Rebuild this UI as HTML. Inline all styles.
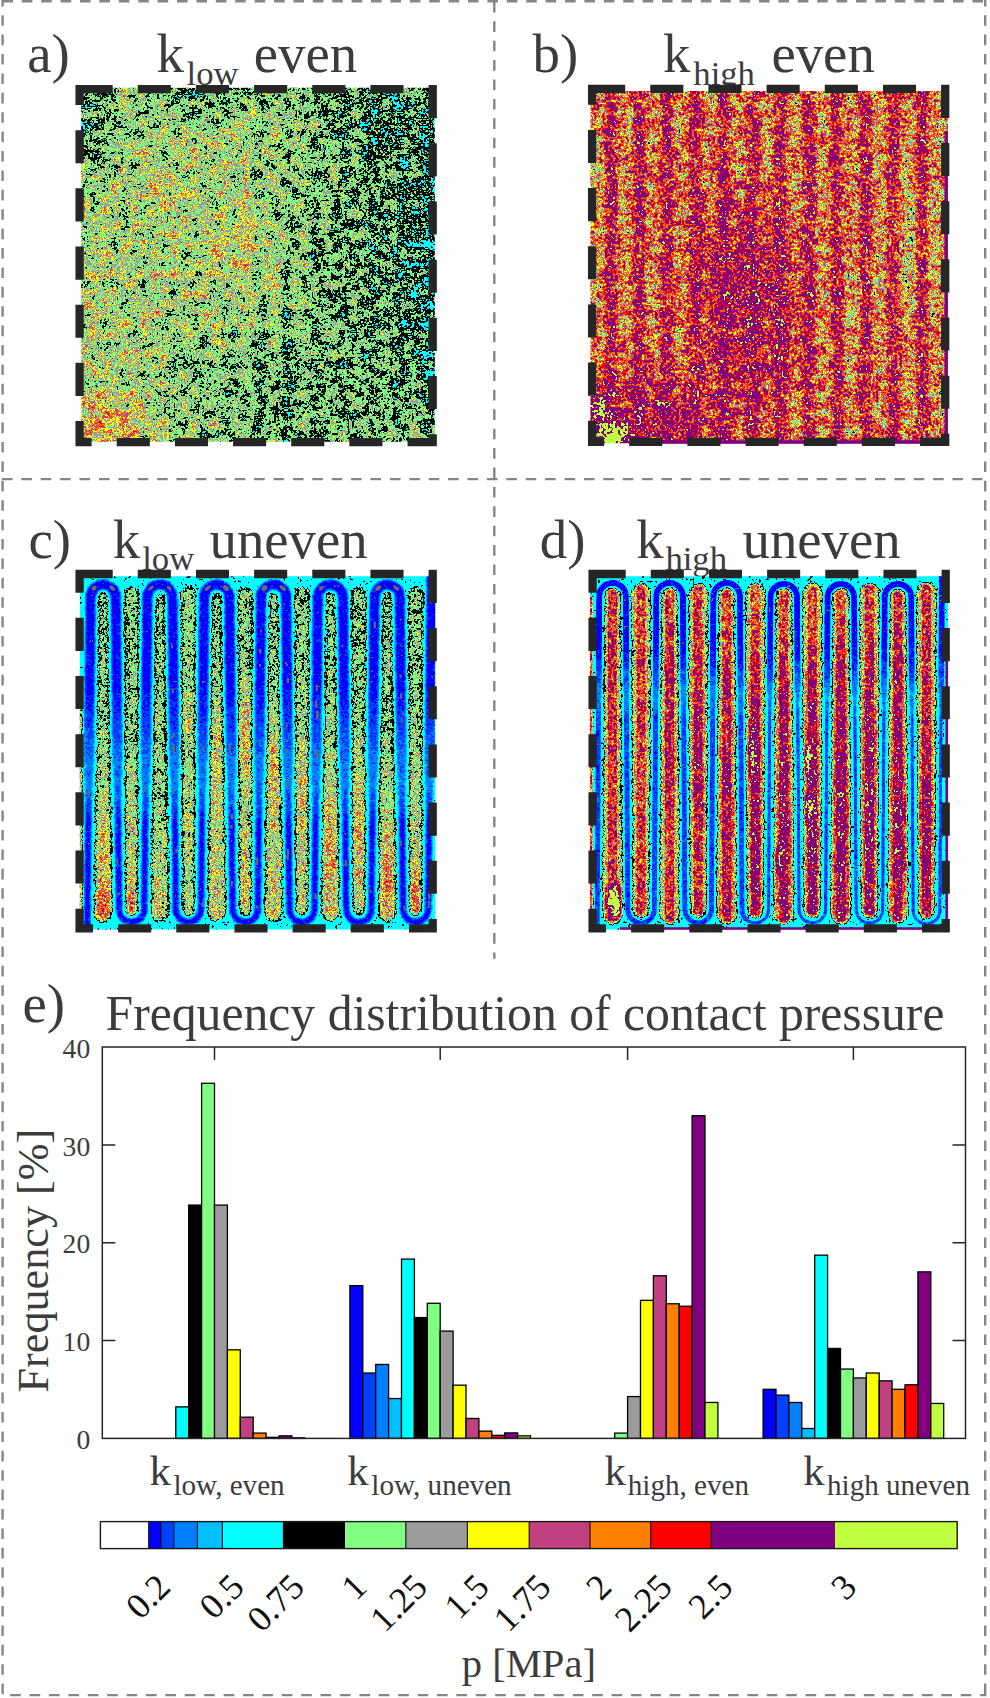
<!DOCTYPE html>
<html><head><meta charset="utf-8"><title>Frequency distribution of contact pressure</title>
<style>html,body{margin:0;padding:0;background:#fff}svg{display:block}</style></head>
<body>
<svg width="990" height="1698" viewBox="0 0 990 1698" font-family='"Liberation Serif", serif' fill="#3c3c3c">
<rect width="990" height="1698" fill="#fff"/>
<g id="guides">
<line x1="2.4" y1="1.3" x2="986.4" y2="1.3" stroke="#868686" stroke-width="2.4" stroke-dasharray="10.6 8.8" stroke-dashoffset="0"/>
<line x1="2.6" y1="0" x2="2.6" y2="1696" stroke="#868686" stroke-width="2.4" stroke-dasharray="10.6 8.8" stroke-dashoffset="4.2"/>
<line x1="985.2" y1="0" x2="985.2" y2="1696" stroke="#868686" stroke-width="2.4" stroke-dasharray="10.6 8.8" stroke-dashoffset="4.2"/>
<line x1="2.4" y1="1695.1" x2="986.4" y2="1695.1" stroke="#868686" stroke-width="2.4" stroke-dasharray="10.6 8.8" stroke-dashoffset="11.6"/>
<line x1="1.9" y1="479.1" x2="986.4" y2="479.1" stroke="#868686" stroke-width="2.4" stroke-dasharray="10.6 8.8" stroke-dashoffset="0"/>
<line x1="494.3" y1="1.9" x2="494.3" y2="958.8" stroke="#868686" stroke-width="2.4" stroke-dasharray="10.6 8.8" stroke-dashoffset="0"/>
</g>
<g id="titles">
<text x="27.3" y="72.4" font-size="54.8">a)</text>
<text x="156.5" y="72.4" font-size="54.8">k</text>
<text x="186.6" y="84.60000000000001" font-size="34.7">low</text>
<text x="253.8" y="72.4" font-size="54.8">even</text>
<text x="532.5" y="72.4" font-size="54.8">b)</text>
<text x="662.9" y="72.4" font-size="54.8">k</text>
<text x="693.3" y="84.60000000000001" font-size="34.7">high</text>
<text x="771.4" y="72.4" font-size="54.8">even</text>
<text x="28.4" y="557.7" font-size="54.8">c)</text>
<text x="112.8" y="557.7" font-size="54.8">k</text>
<text x="142.2" y="569.9000000000001" font-size="34.7">low</text>
<text x="209.5" y="557.7" font-size="54.8">uneven</text>
<text x="539.8" y="557.7" font-size="54.8">d)</text>
<text x="636.2" y="557.7" font-size="54.8">k</text>
<text x="665.4" y="569.9000000000001" font-size="34.7">high</text>
<text x="742.5" y="557.7" font-size="54.8">uneven</text>
</g>
<defs><radialGradient id="gw"><stop offset="0" stop-color="#fff"/><stop offset=".5" stop-color="#fff" stop-opacity=".6"/><stop offset="1" stop-color="#fff" stop-opacity="0"/></radialGradient>
<radialGradient id="gk"><stop offset="0" stop-color="#000"/><stop offset=".5" stop-color="#000" stop-opacity=".6"/><stop offset="1" stop-color="#000" stop-opacity="0"/></radialGradient></defs><clipPath id="ca"><rect x="81.2" y="87.7" width="353.6" height="354.0"/></clipPath><filter id="fa" filterUnits="userSpaceOnUse" x="69.2" y="75.7" width="377.6" height="378.0" color-interpolation-filters="sRGB"><feGaussianBlur in="SourceGraphic" stdDeviation="3" result="m0"/><feTurbulence type="fractalNoise" baseFrequency="0.1" numOctaves="2" seed="5"/><feColorMatrix values="1 0 0 0 0 1 0 0 0 0 1 0 0 0 0 0 0 0 0 1" result="n2"/><feComposite in="m0" in2="n2" operator="arithmetic" k1="0" k2="1" k3="0.20070211809099997" k4="-0.1004" result="m"/><feTurbulence type="fractalNoise" baseFrequency="0.42" numOctaves="1" seed="11"/><feColorMatrix values="1 0 0 0 0 1 0 0 0 0 1 0 0 0 0 0 0 0 0 1" result="n1"/><feComposite in="m" in2="n1" operator="arithmetic" k1="0" k2="1" k3="0.2085282384190767" k4="-0.1043"/><feComponentTransfer><feFuncR type="discrete" tableValues=".42 .42 .42 .42 .42 .42 .42 .42 .42 .42 .42 .42 .42 0 0 0 0 0 0 0 0 0 0 0 0 0 0 0 0 0 0 0 0 0 0 0 0 0 0 0 0 0 0 0 0 0 0 0 0 0 0 0 0 0 0 0 0 0 0 0 0 0 0 0 0 0 0 0 0 0 0 0 0 0 0 0 0 0 0 0 0 0 0 0 0 0 0 0 0 0 0 0 0 0 0 0 0 0 0 0 0 0 0 0 0 0 0 0 0 0 0 0 0 0 0 0 0 0 0 0 0 0 0 0 0 0 0 0 0 0 0 0 0 0 0 0 0 0 0 0 0 0 0 0 0 0 0 0 0 0 0 0 0 0 0 0 0 .5 .5 .5 .5 .5 .5 .5 .5 .5 .5 .61 .61 .61 .61 .61 .61 .61 .61 1 1 1 1 1 1 1 .75 .75 .75 .75 .75 .75 .75 1 1 1 1 1 1 1 1 1 1 1 1 .5 .5 .5 .5 .5 .5 .5 .5 .5 .5 .5 .5 .5 .5 .5 .5 .5 .5 .5 .5 .5 .75 .75 .75 .75 .75 .75 .75 .75 .75 .75 .75 .75 .75 .75 .75 .75 .75 .75 .75 .75 .75 .75 .75 .75 .75 .75 .75 .75 .75 .75 .75 .75 .75 .75"/><feFuncG type="discrete" tableValues=".42 .42 .42 .42 .42 .42 .42 .42 .42 .42 .42 .42 .42 0 0 0 0 0 0 0 0 0 0 0 0 0 0 0 0 0 0 0 0 0 0 0 0 0 0 0 0 0 .25 .25 .25 .25 .25 .25 .25 .25 .25 .25 .25 .25 .25 .25 .25 .25 .25 .25 .25 .25 .25 .5 .5 .5 .5 .5 .5 .5 .5 .5 .5 .5 .5 .5 .5 .5 .5 .5 .5 .5 .5 .5 .5 .5 .5 .5 .75 .75 .75 .75 .75 .75 .75 .75 .75 .75 .75 .75 .75 .75 .75 .75 .75 .75 .75 1 1 1 1 1 1 1 1 1 1 1 1 1 1 1 1 1 1 1 1 1 1 1 1 1 1 1 1 1 1 1 1 1 1 1 1 0 0 0 0 0 0 0 0 0 0 0 0 0 0 1 1 1 1 1 1 1 1 1 1 .61 .61 .61 .61 .61 .61 .61 .61 1 1 1 1 1 1 1 .25 .25 .25 .25 .25 .25 .25 .5 .5 .5 .5 .5 .5 0 0 0 0 0 0 0 0 0 0 0 0 0 0 0 0 0 0 0 0 0 0 0 0 0 0 0 1 1 1 1 1 1 1 1 1 1 1 1 1 1 1 1 1 1 1 1 1 1 1 1 1 1 1 1 1 1 1 1 1 1"/><feFuncB type="discrete" tableValues=".42 .42 .42 .42 .42 .42 .42 .42 .42 .42 .42 .42 .42 1 1 1 1 1 1 1 1 1 1 1 1 1 1 1 1 1 1 1 1 1 1 1 1 1 1 1 1 1 1 1 1 1 1 1 1 1 1 1 1 1 1 1 1 1 1 1 1 1 1 1 1 1 1 1 1 1 1 1 1 1 1 1 1 1 1 1 1 1 1 1 1 1 1 1 1 1 1 1 1 1 1 1 1 1 1 1 1 1 1 1 1 1 1 1 1 1 1 1 1 1 1 1 1 1 1 1 1 1 1 1 1 1 1 1 1 1 1 1 1 1 1 1 1 1 1 1 1 1 1 0 0 0 0 0 0 0 0 0 0 0 0 0 0 .5 .5 .5 .5 .5 .5 .5 .5 .5 .5 .61 .61 .61 .61 .61 .61 .61 .61 0 0 0 0 0 0 0 .5 .5 .5 .5 .5 .5 .5 0 0 0 0 0 0 0 0 0 0 0 0 .5 .5 .5 .5 .5 .5 .5 .5 .5 .5 .5 .5 .5 .5 .5 .5 .5 .5 .5 .5 .5 .25 .25 .25 .25 .25 .25 .25 .25 .25 .25 .25 .25 .25 .25 .25 .25 .25 .25 .25 .25 .25 .25 .25 .25 .25 .25 .25 .25 .25 .25 .25 .25 .25 .25"/><feFuncA type="linear" slope="0" intercept="1"/></feComponentTransfer></filter><g clip-path="url(#ca)"><g filter="url(#fa)"><rect x="67.2" y="73.7" width="381.6" height="382.0" fill="#a8a8a8"/><ellipse cx="247.392" cy="239.92000000000002" rx="15.912" ry="60.18000000000001" fill="url(#gw)" opacity="0.123"/><ellipse cx="215.56800000000004" cy="247.0" rx="14.144000000000002" ry="35.4" fill="url(#gw)" opacity="0.090"/><ellipse cx="275.68" cy="264.7" rx="12.376000000000001" ry="42.48" fill="url(#gw)" opacity="0.090"/><ellipse cx="158.99200000000002" cy="186.82" rx="15.912" ry="42.48" fill="url(#gw)" opacity="0.090"/><ellipse cx="187.28" cy="229.3" rx="14.144000000000002" ry="35.4" fill="url(#gw)" opacity="0.045"/><ellipse cx="102.416" cy="424.0" rx="56.57600000000001" ry="42.48" fill="url(#gw)" opacity="0.169"/><ellipse cx="81.2" cy="317.8" rx="17.680000000000003" ry="88.5" fill="url(#gw)" opacity="0.056"/><ellipse cx="81.2" cy="123.1" rx="45.968" ry="84.96" fill="url(#gk)" opacity="0.102"/><ellipse cx="194.35200000000003" cy="87.7" rx="70.72000000000001" ry="49.56" fill="url(#gk)" opacity="0.083"/><ellipse cx="134.24" cy="123.1" rx="24.752000000000002" ry="24.78" fill="url(#gk)" opacity="0.043"/><ellipse cx="300.432" cy="87.7" rx="106.08" ry="35.4" fill="url(#gk)" opacity="0.043"/><ellipse cx="463.088" cy="247.0" rx="212.16" ry="300.9" fill="url(#gk)" opacity="0.102"/><ellipse cx="434.8" cy="282.40000000000003" rx="35.36000000000001" ry="177.0" fill="url(#gk)" opacity="0.048"/><ellipse cx="381.76" cy="116.02000000000001" rx="77.792" ry="56.64" fill="url(#gk)" opacity="0.043"/><ellipse cx="275.68" cy="406.3" rx="113.15200000000002" ry="88.5" fill="url(#gk)" opacity="0.048"/><ellipse cx="187.28" cy="363.82" rx="42.432" ry="35.4" fill="url(#gk)" opacity="0.032"/><path d="M258.9 79.7V449.7M287.4 79.7V449.7M315.8 79.7V449.7M344.2 79.7V449.7M372.7 79.7V449.7M401.1 79.7V449.7M429.6 79.7V449.7" stroke="#000" stroke-width="9" opacity="0.036" fill="none"/><path d="M173.6 307.18V449.7M202.0 307.18V449.7M230.4 307.18V449.7M258.9 307.18V449.7M287.4 307.18V449.7" stroke="#000" stroke-width="8" opacity="0.034" fill="none"/></g></g><clipPath id="cb"><rect x="590.4" y="91.0" width="357.4" height="352.2"/></clipPath><filter id="fb" filterUnits="userSpaceOnUse" x="578.4" y="79.0" width="381.4" height="376.2" color-interpolation-filters="sRGB"><feGaussianBlur in="SourceGraphic" stdDeviation="2.2" result="m0"/><feTurbulence type="fractalNoise" baseFrequency="0.11" numOctaves="2" seed="8"/><feColorMatrix values="1 0 0 0 0 1 0 0 0 0 1 0 0 0 0 0 0 0 0 1" result="n2"/><feComposite in="m0" in2="n2" operator="arithmetic" k1="0" k2="1" k3="0.2274624005031333" k4="-0.1137" result="m"/><feTurbulence type="fractalNoise" baseFrequency="0.38" numOctaves="1" seed="23"/><feColorMatrix values="1 0 0 0 0 1 0 0 0 0 1 0 0 0 0 0 0 0 0 1" result="n1"/><feComposite in="m" in2="n1" operator="arithmetic" k1="0" k2="1" k3="0.29789748345582384" k4="-0.1489"/><feComponentTransfer><feFuncR type="discrete" tableValues=".42 .42 .42 .42 .42 .42 .42 .42 .42 .42 .42 .42 .42 0 0 0 0 0 0 0 0 0 0 0 0 0 0 0 0 0 0 0 0 0 0 0 0 0 0 0 0 0 0 0 0 0 0 0 0 0 0 0 0 0 0 0 0 0 0 0 0 0 0 0 0 0 0 0 0 0 0 0 0 0 0 0 0 0 0 0 0 0 0 0 0 0 0 0 0 0 0 0 0 0 0 0 0 0 0 0 0 0 0 0 0 0 0 0 0 0 0 0 0 0 0 0 0 0 0 0 0 0 0 0 0 0 0 0 0 0 0 0 0 0 0 0 0 0 0 0 0 0 0 0 0 0 0 0 0 0 0 0 0 0 0 0 0 .5 .5 .5 .5 .5 .5 .5 .5 .5 .5 .61 .61 .61 .61 .61 .61 .61 .61 1 1 1 1 1 1 1 .75 .75 .75 .75 .75 .75 .75 1 1 1 1 1 1 1 1 1 1 1 1 .5 .5 .5 .5 .5 .5 .5 .5 .5 .5 .5 .5 .5 .5 .5 .5 .5 .5 .5 .5 .5 .75 .75 .75 .75 .75 .75 .75 .75 .75 .75 .75 .75 .75 .75 .75 .75 .75 .75 .75 .75 .75 .75 .75 .75 .75 .75 .75 .75 .75 .75 .75 .75 .75 .75"/><feFuncG type="discrete" tableValues=".42 .42 .42 .42 .42 .42 .42 .42 .42 .42 .42 .42 .42 0 0 0 0 0 0 0 0 0 0 0 0 0 0 0 0 0 0 0 0 0 0 0 0 0 0 0 0 0 .25 .25 .25 .25 .25 .25 .25 .25 .25 .25 .25 .25 .25 .25 .25 .25 .25 .25 .25 .25 .25 .5 .5 .5 .5 .5 .5 .5 .5 .5 .5 .5 .5 .5 .5 .5 .5 .5 .5 .5 .5 .5 .5 .5 .5 .5 .75 .75 .75 .75 .75 .75 .75 .75 .75 .75 .75 .75 .75 .75 .75 .75 .75 .75 .75 1 1 1 1 1 1 1 1 1 1 1 1 1 1 1 1 1 1 1 1 1 1 1 1 1 1 1 1 1 1 1 1 1 1 1 1 0 0 0 0 0 0 0 0 0 0 0 0 0 0 1 1 1 1 1 1 1 1 1 1 .61 .61 .61 .61 .61 .61 .61 .61 1 1 1 1 1 1 1 .25 .25 .25 .25 .25 .25 .25 .5 .5 .5 .5 .5 .5 0 0 0 0 0 0 0 0 0 0 0 0 0 0 0 0 0 0 0 0 0 0 0 0 0 0 0 1 1 1 1 1 1 1 1 1 1 1 1 1 1 1 1 1 1 1 1 1 1 1 1 1 1 1 1 1 1 1 1 1 1"/><feFuncB type="discrete" tableValues=".42 .42 .42 .42 .42 .42 .42 .42 .42 .42 .42 .42 .42 1 1 1 1 1 1 1 1 1 1 1 1 1 1 1 1 1 1 1 1 1 1 1 1 1 1 1 1 1 1 1 1 1 1 1 1 1 1 1 1 1 1 1 1 1 1 1 1 1 1 1 1 1 1 1 1 1 1 1 1 1 1 1 1 1 1 1 1 1 1 1 1 1 1 1 1 1 1 1 1 1 1 1 1 1 1 1 1 1 1 1 1 1 1 1 1 1 1 1 1 1 1 1 1 1 1 1 1 1 1 1 1 1 1 1 1 1 1 1 1 1 1 1 1 1 1 1 1 1 1 0 0 0 0 0 0 0 0 0 0 0 0 0 0 .5 .5 .5 .5 .5 .5 .5 .5 .5 .5 .61 .61 .61 .61 .61 .61 .61 .61 0 0 0 0 0 0 0 .5 .5 .5 .5 .5 .5 .5 0 0 0 0 0 0 0 0 0 0 0 0 .5 .5 .5 .5 .5 .5 .5 .5 .5 .5 .5 .5 .5 .5 .5 .5 .5 .5 .5 .5 .5 .25 .25 .25 .25 .25 .25 .25 .25 .25 .25 .25 .25 .25 .25 .25 .25 .25 .25 .25 .25 .25 .25 .25 .25 .25 .25 .25 .25 .25 .25 .25 .25 .25 .25"/><feFuncA type="linear" slope="0" intercept="1"/></feComponentTransfer></filter><g clip-path="url(#cb)"><g filter="url(#fb)"><rect x="576.4" y="77.0" width="385.4" height="380.2" fill="#b8b8b8"/><ellipse cx="751.23" cy="309.36400000000003" rx="71.48" ry="147.92399999999998" fill="url(#gw)" opacity="0.295"/><ellipse cx="715.49" cy="249.49" rx="42.888" ry="105.66" fill="url(#gw)" opacity="0.069"/><ellipse cx="640.4359999999999" cy="418.546" rx="114.368" ry="70.44" fill="url(#gw)" opacity="0.295"/><ellipse cx="661.88" cy="196.66" rx="42.888" ry="88.05" fill="url(#gw)" opacity="0.052"/><ellipse cx="912.06" cy="238.92399999999998" rx="39.314" ry="105.66" fill="url(#gk)" opacity="0.060"/><ellipse cx="858.4499999999999" cy="302.32" rx="35.74" ry="70.44" fill="url(#gk)" opacity="0.021"/><ellipse cx="840.5799999999999" cy="112.132" rx="107.21999999999998" ry="35.22" fill="url(#gk)" opacity="0.017"/><ellipse cx="590.4" cy="196.66" rx="17.87" ry="105.66" fill="url(#gk)" opacity="0.036"/><path d="M610.7 83.0V451.2M639.0 83.0V451.2M667.3 83.0V451.2M695.6 83.0V451.2M723.9 83.0V451.2M752.2 83.0V451.2M780.5 83.0V451.2M808.8 83.0V451.2M837.1 83.0V451.2M865.4 83.0V451.2M893.7 83.0V451.2M922.0 83.0V451.2" stroke="#d3d3d3" stroke-width="12" opacity="0.68" fill="none"/><ellipse cx="610.057" cy="434.395" rx="26.804999999999996" ry="17.61" fill="url(#gw)" opacity="0.722"/><ellipse cx="597.548" cy="407.98" rx="10.722" ry="17.61" fill="url(#gw)" opacity="0.584"/></g></g><path d="M946.1999999999999 131.0V442.0H650.4" stroke="#800080" stroke-width="3.4" fill="none"/><clipPath id="cc"><rect x="79.8" y="576.2" width="355.5" height="353.3"/></clipPath><linearGradient id="lgm" gradientUnits="userSpaceOnUse" x1="0" y1="576.2" x2="0" y2="929.5"><stop offset="0" stop-color="#000"/><stop offset=".3" stop-color="#000" stop-opacity=".8"/><stop offset=".75" stop-color="#000" stop-opacity="0"/></linearGradient><filter id="mcf" filterUnits="userSpaceOnUse" x="69.8" y="566.2" width="375.5" height="373.3"><feGaussianBlur stdDeviation="0.8"/></filter><mask id="mc" maskUnits="userSpaceOnUse" x="69.8" y="566.2" width="375.5" height="373.3"><g filter="url(#mcf)"><rect x="69.8" y="566.2" width="375.5" height="373.3" fill="#fff"/><path d="M87.4 949.5L90.6 597.2M119.0 909.5L115.8 597.2M144.2 909.5L147.4 597.2M175.8 909.5L172.6 597.2M201.0 909.5L204.2 597.2M232.6 909.5L229.4 597.2M257.8 909.5L261.0 597.2M289.4 909.5L286.2 597.2M314.6 909.5L317.8 597.2M346.2 909.5L343.0 597.2M371.4 909.5L374.6 597.2M403.0 909.5L399.8 597.2M428.2 909.5L431.4 597.2V556.2M90.6 597.2V597.2A12.60 12.60 0 0 1 115.8 597.2V597.2M87.4 909.5V912.5A15.80 15.80 0 0 0 119.0 912.5V909.5M115.8 597.2V594.2A15.80 15.80 0 0 1 147.4 594.2V597.2M119.0 909.5V909.5A12.60 12.60 0 0 0 144.2 909.5V909.5M147.4 597.2V597.2A12.60 12.60 0 0 1 172.6 597.2V597.2M144.2 909.5V912.5A15.80 15.80 0 0 0 175.8 912.5V909.5M172.6 597.2V594.2A15.80 15.80 0 0 1 204.2 594.2V597.2M175.8 909.5V909.5A12.60 12.60 0 0 0 201.0 909.5V909.5M204.2 597.2V597.2A12.60 12.60 0 0 1 229.4 597.2V597.2M201.0 909.5V912.5A15.80 15.80 0 0 0 232.6 912.5V909.5M229.4 597.2V594.2A15.80 15.80 0 0 1 261.0 594.2V597.2M232.6 909.5V909.5A12.60 12.60 0 0 0 257.8 909.5V909.5M261.0 597.2V597.2A12.60 12.60 0 0 1 286.2 597.2V597.2M257.8 909.5V912.5A15.80 15.80 0 0 0 289.4 912.5V909.5M286.2 597.2V594.2A15.80 15.80 0 0 1 317.8 594.2V597.2M289.4 909.5V909.5A12.60 12.60 0 0 0 314.6 909.5V909.5M317.8 597.2V597.2A12.60 12.60 0 0 1 343.0 597.2V597.2M314.6 909.5V912.5A15.80 15.80 0 0 0 346.2 912.5V909.5M343.0 597.2V594.2A15.80 15.80 0 0 1 374.6 594.2V597.2M346.2 909.5V909.5A12.60 12.60 0 0 0 371.4 909.5V909.5M374.6 597.2V597.2A12.60 12.60 0 0 1 399.8 597.2V597.2M371.4 909.5V912.5A15.80 15.80 0 0 0 403.0 912.5V909.5M399.8 597.2V594.2A15.80 15.80 0 0 1 431.4 594.2V597.2M403.0 909.5V909.5A12.60 12.60 0 0 0 428.2 909.5V909.5" stroke="#000" stroke-width="16.2" fill="none"/><path d="M87.4 949.5L90.6 597.2M119.0 909.5L115.8 597.2M144.2 909.5L147.4 597.2M175.8 909.5L172.6 597.2M201.0 909.5L204.2 597.2M232.6 909.5L229.4 597.2M257.8 909.5L261.0 597.2M289.4 909.5L286.2 597.2M314.6 909.5L317.8 597.2M346.2 909.5L343.0 597.2M371.4 909.5L374.6 597.2M403.0 909.5L399.8 597.2M428.2 909.5L431.4 597.2V556.2M90.6 597.2V597.2A12.60 12.60 0 0 1 115.8 597.2V597.2M87.4 909.5V912.5A15.80 15.80 0 0 0 119.0 912.5V909.5M115.8 597.2V594.2A15.80 15.80 0 0 1 147.4 594.2V597.2M119.0 909.5V909.5A12.60 12.60 0 0 0 144.2 909.5V909.5M147.4 597.2V597.2A12.60 12.60 0 0 1 172.6 597.2V597.2M144.2 909.5V912.5A15.80 15.80 0 0 0 175.8 912.5V909.5M172.6 597.2V594.2A15.80 15.80 0 0 1 204.2 594.2V597.2M175.8 909.5V909.5A12.60 12.60 0 0 0 201.0 909.5V909.5M204.2 597.2V597.2A12.60 12.60 0 0 1 229.4 597.2V597.2M201.0 909.5V912.5A15.80 15.80 0 0 0 232.6 912.5V909.5M229.4 597.2V594.2A15.80 15.80 0 0 1 261.0 594.2V597.2M232.6 909.5V909.5A12.60 12.60 0 0 0 257.8 909.5V909.5M261.0 597.2V597.2A12.60 12.60 0 0 1 286.2 597.2V597.2M257.8 909.5V912.5A15.80 15.80 0 0 0 289.4 912.5V909.5M286.2 597.2V594.2A15.80 15.80 0 0 1 317.8 594.2V597.2M289.4 909.5V909.5A12.60 12.60 0 0 0 314.6 909.5V909.5M317.8 597.2V597.2A12.60 12.60 0 0 1 343.0 597.2V597.2M314.6 909.5V912.5A15.80 15.80 0 0 0 346.2 912.5V909.5M343.0 597.2V594.2A15.80 15.80 0 0 1 374.6 594.2V597.2M346.2 909.5V909.5A12.60 12.60 0 0 0 371.4 909.5V909.5M374.6 597.2V597.2A12.60 12.60 0 0 1 399.8 597.2V597.2M371.4 909.5V912.5A15.80 15.80 0 0 0 403.0 912.5V909.5M399.8 597.2V594.2A15.80 15.80 0 0 1 431.4 594.2V597.2M403.0 909.5V909.5A12.60 12.60 0 0 0 428.2 909.5V909.5" stroke="url(#lgm)" stroke-width="18.2" fill="none"/><path d="M69.8 566.2H445.3V581.2H69.8zM69.8 925.5H445.3V939.5H69.8z" fill="#000"/><rect x="69.8" y="566.2" width="19.2" height="373.3" fill="#000"/><rect x="429.8" y="566.2" width="15.5" height="373.3" fill="#000"/></g></mask><filter id="fc" filterUnits="userSpaceOnUse" x="67.8" y="564.2" width="379.5" height="377.29999999999995" color-interpolation-filters="sRGB"><feGaussianBlur in="SourceGraphic" stdDeviation="1.1" result="m0"/><feTurbulence type="fractalNoise" baseFrequency="0.13" numOctaves="2" seed="9"/><feColorMatrix values="1 0 0 0 0 1 0 0 0 0 1 0 0 0 0 0 0 0 0 1" result="n2"/><feComposite in="m0" in2="n2" operator="arithmetic" k1="0" k2="1" k3="0.13380141206066665" k4="-0.0669" result="m"/><feTurbulence type="fractalNoise" baseFrequency="0.42" numOctaves="1" seed="31"/><feColorMatrix values="1 0 0 0 0 1 0 0 0 0 1 0 0 0 0 0 0 0 0 1" result="n1"/><feComposite in="m" in2="n1" operator="arithmetic" k1="0" k2="1" k3="0.25321286093745027" k4="-0.1266"/><feComponentTransfer><feFuncR type="discrete" tableValues=".42 .42 .42 .42 .42 .42 .42 .42 .42 .42 .42 .42 .42 0 0 0 0 0 0 0 0 0 0 0 0 0 0 0 0 0 0 0 0 0 0 0 0 0 0 0 0 0 0 0 0 0 0 0 0 0 0 0 0 0 0 0 0 0 0 0 0 0 0 0 0 0 0 0 0 0 0 0 0 0 0 0 0 0 0 0 0 0 0 0 0 0 0 0 0 0 0 0 0 0 0 0 0 0 0 0 0 0 0 0 0 0 0 0 0 0 0 0 0 0 0 0 0 0 0 0 0 0 0 0 0 0 0 0 0 0 0 0 0 0 0 0 0 0 0 0 0 0 0 0 0 0 0 0 0 0 0 0 0 0 0 0 0 .5 .5 .5 .5 .5 .5 .5 .5 .5 .5 .61 .61 .61 .61 .61 .61 .61 .61 1 1 1 1 1 1 1 .75 .75 .75 .75 .75 .75 .75 1 1 1 1 1 1 1 1 1 1 1 1 .5 .5 .5 .5 .5 .5 .5 .5 .5 .5 .5 .5 .5 .5 .5 .5 .5 .5 .5 .5 .5 .75 .75 .75 .75 .75 .75 .75 .75 .75 .75 .75 .75 .75 .75 .75 .75 .75 .75 .75 .75 .75 .75 .75 .75 .75 .75 .75 .75 .75 .75 .75 .75 .75 .75"/><feFuncG type="discrete" tableValues=".42 .42 .42 .42 .42 .42 .42 .42 .42 .42 .42 .42 .42 0 0 0 0 0 0 0 0 0 0 0 0 0 0 0 0 0 0 0 0 0 0 0 0 0 0 0 0 0 .25 .25 .25 .25 .25 .25 .25 .25 .25 .25 .25 .25 .25 .25 .25 .25 .25 .25 .25 .25 .25 .5 .5 .5 .5 .5 .5 .5 .5 .5 .5 .5 .5 .5 .5 .5 .5 .5 .5 .5 .5 .5 .5 .5 .5 .5 .75 .75 .75 .75 .75 .75 .75 .75 .75 .75 .75 .75 .75 .75 .75 .75 .75 .75 .75 1 1 1 1 1 1 1 1 1 1 1 1 1 1 1 1 1 1 1 1 1 1 1 1 1 1 1 1 1 1 1 1 1 1 1 1 0 0 0 0 0 0 0 0 0 0 0 0 0 0 1 1 1 1 1 1 1 1 1 1 .61 .61 .61 .61 .61 .61 .61 .61 1 1 1 1 1 1 1 .25 .25 .25 .25 .25 .25 .25 .5 .5 .5 .5 .5 .5 0 0 0 0 0 0 0 0 0 0 0 0 0 0 0 0 0 0 0 0 0 0 0 0 0 0 0 1 1 1 1 1 1 1 1 1 1 1 1 1 1 1 1 1 1 1 1 1 1 1 1 1 1 1 1 1 1 1 1 1 1"/><feFuncB type="discrete" tableValues=".42 .42 .42 .42 .42 .42 .42 .42 .42 .42 .42 .42 .42 1 1 1 1 1 1 1 1 1 1 1 1 1 1 1 1 1 1 1 1 1 1 1 1 1 1 1 1 1 1 1 1 1 1 1 1 1 1 1 1 1 1 1 1 1 1 1 1 1 1 1 1 1 1 1 1 1 1 1 1 1 1 1 1 1 1 1 1 1 1 1 1 1 1 1 1 1 1 1 1 1 1 1 1 1 1 1 1 1 1 1 1 1 1 1 1 1 1 1 1 1 1 1 1 1 1 1 1 1 1 1 1 1 1 1 1 1 1 1 1 1 1 1 1 1 1 1 1 1 1 0 0 0 0 0 0 0 0 0 0 0 0 0 0 .5 .5 .5 .5 .5 .5 .5 .5 .5 .5 .61 .61 .61 .61 .61 .61 .61 .61 0 0 0 0 0 0 0 .5 .5 .5 .5 .5 .5 .5 0 0 0 0 0 0 0 0 0 0 0 0 .5 .5 .5 .5 .5 .5 .5 .5 .5 .5 .5 .5 .5 .5 .5 .5 .5 .5 .5 .5 .5 .25 .25 .25 .25 .25 .25 .25 .25 .25 .25 .25 .25 .25 .25 .25 .25 .25 .25 .25 .25 .25 .25 .25 .25 .25 .25 .25 .25 .25 .25 .25 .25 .25 .25"/><feFuncA type="linear" slope="0" intercept="1"/></feComponentTransfer></filter><g clip-path="url(#cc)"><g filter="url(#fc)"><rect x="65.8" y="562.2" width="383.5" height="381.3" fill="#828282"/><linearGradient id="lgc" gradientUnits="userSpaceOnUse" x1="0" y1="576.2" x2="0" y2="929.5"><stop offset="0" stop-color="#a1a1a1"/><stop offset=".42" stop-color="#a5a5a5"/><stop offset=".75" stop-color="#acacac"/><stop offset="1" stop-color="#b0b0b0"/></linearGradient><g mask="url(#mc)"><rect x="65.8" y="562.2" width="383.5" height="381.3" fill="url(#lgc)"/><ellipse cx="103.2" cy="904.769" rx="12.4425" ry="31.796999999999993" fill="url(#gw)" opacity="0.255"/><ellipse cx="131.6" cy="904.769" rx="10.665" ry="28.263999999999996" fill="url(#gw)" opacity="0.194"/><ellipse cx="103.2" cy="841.175" rx="10.665" ry="52.99499999999999" fill="url(#gw)" opacity="0.088"/><ellipse cx="216.8" cy="752.85" rx="10.665" ry="70.66" fill="url(#gw)" opacity="0.139"/><ellipse cx="245.2" cy="735.1850000000001" rx="10.665" ry="70.66" fill="url(#gw)" opacity="0.169"/><ellipse cx="273.59999999999997" cy="770.5150000000001" rx="10.665" ry="77.72599999999998" fill="url(#gw)" opacity="0.139"/><ellipse cx="188.39999999999998" cy="717.52" rx="10.665" ry="42.395999999999994" fill="url(#gw)" opacity="0.091"/><ellipse cx="302.0" cy="788.1800000000001" rx="10.665" ry="70.66" fill="url(#gw)" opacity="0.106"/><ellipse cx="330.4" cy="841.175" rx="10.665" ry="70.66" fill="url(#gw)" opacity="0.136"/><ellipse cx="358.8" cy="830.576" rx="10.665" ry="77.72599999999998" fill="url(#gw)" opacity="0.121"/><ellipse cx="387.2" cy="876.505" rx="10.665" ry="52.99499999999999" fill="url(#gw)" opacity="0.151"/><ellipse cx="415.59999999999997" cy="894.1700000000001" rx="10.665" ry="42.395999999999994" fill="url(#gw)" opacity="0.194"/><ellipse cx="245.2" cy="876.505" rx="10.665" ry="52.99499999999999" fill="url(#gw)" opacity="0.071"/><ellipse cx="163.555" cy="823.51" rx="17.775000000000002" ry="105.98999999999998" fill="url(#gk)" opacity="0.040"/><ellipse cx="188.39999999999998" cy="876.505" rx="10.665" ry="52.99499999999999" fill="url(#gk)" opacity="0.048"/><ellipse cx="122.46" cy="682.19" rx="42.66" ry="105.98999999999998" fill="url(#gk)" opacity="0.019"/><ellipse cx="381.975" cy="664.5250000000001" rx="71.10000000000001" ry="105.98999999999998" fill="url(#gk)" opacity="0.024"/></g><path d="M87.4 949.5L87.4 909.5L90.6 597.2A12.60 12.60 0 0 1 115.8 597.2L119.0 909.5A12.60 12.60 0 0 0 144.2 909.5L147.4 597.2A12.60 12.60 0 0 1 172.6 597.2L175.8 909.5A12.60 12.60 0 0 0 201.0 909.5L204.2 597.2A12.60 12.60 0 0 1 229.4 597.2L232.6 909.5A12.60 12.60 0 0 0 257.8 909.5L261.0 597.2A12.60 12.60 0 0 1 286.2 597.2L289.4 909.5A12.60 12.60 0 0 0 314.6 909.5L317.8 597.2A12.60 12.60 0 0 1 343.0 597.2L346.2 909.5A12.60 12.60 0 0 0 371.4 909.5L374.6 597.2A12.60 12.60 0 0 1 399.8 597.2L403.0 909.5A12.60 12.60 0 0 0 428.2 909.5L431.4 597.2V556.2" stroke="#1d1d1d" stroke-width="6.4" fill="none" /><linearGradient id="lgt" gradientUnits="userSpaceOnUse" x1="0" y1="576.2" x2="0" y2="929.5"><stop offset="0" stop-color="#1d1d1d"/><stop offset=".3" stop-color="#1d1d1d"/><stop offset=".5" stop-color="#3f3f3f"/><stop offset=".7" stop-color="#828282" stop-opacity="0"/></linearGradient><path d="M87.4 949.5L87.4 909.5L90.6 597.2A12.60 12.60 0 0 1 115.8 597.2L119.0 909.5A12.60 12.60 0 0 0 144.2 909.5L147.4 597.2A12.60 12.60 0 0 1 172.6 597.2L175.8 909.5A12.60 12.60 0 0 0 201.0 909.5L204.2 597.2A12.60 12.60 0 0 1 229.4 597.2L232.6 909.5A12.60 12.60 0 0 0 257.8 909.5L261.0 597.2A12.60 12.60 0 0 1 286.2 597.2L289.4 909.5A12.60 12.60 0 0 0 314.6 909.5L317.8 597.2A12.60 12.60 0 0 1 343.0 597.2L346.2 909.5A12.60 12.60 0 0 0 371.4 909.5L374.6 597.2A12.60 12.60 0 0 1 399.8 597.2L403.0 909.5A12.60 12.60 0 0 0 428.2 909.5L431.4 597.2V556.2" stroke="url(#lgt)" stroke-width="10.0" fill="none"/><path d="M80.6 676.2V929.5" stroke="#b9b9b9" stroke-width="2.6"/></g><g fill="#6a6a6a"><ellipse cx="94.1" cy="588.1" rx="2.8" ry="2.2" transform="rotate(-40 94.1 588.1)"/><ellipse cx="112.3" cy="588.1" rx="3.4" ry="1.9" transform="rotate(40 112.3 588.1)"/><ellipse cx="150.9" cy="588.1" rx="3.4" ry="1.5" transform="rotate(-40 150.9 588.1)"/><ellipse cx="169.1" cy="588.1" rx="2.7" ry="1.6" transform="rotate(40 169.1 588.1)"/><ellipse cx="207.7" cy="588.1" rx="3.8" ry="1.6" transform="rotate(-40 207.7 588.1)"/><ellipse cx="225.9" cy="588.1" rx="3.5" ry="2.4" transform="rotate(40 225.9 588.1)"/><ellipse cx="264.5" cy="588.1" rx="3.2" ry="2.5" transform="rotate(-40 264.5 588.1)"/><ellipse cx="282.7" cy="588.1" rx="3.9" ry="1.8" transform="rotate(40 282.7 588.1)"/><ellipse cx="321.3" cy="588.1" rx="2.8" ry="1.8" transform="rotate(-40 321.3 588.1)"/><ellipse cx="378.1" cy="588.1" rx="3.5" ry="2.1" transform="rotate(-40 378.1 588.1)"/><ellipse cx="396.3" cy="588.1" rx="3.4" ry="1.6" transform="rotate(40 396.3 588.1)"/><rect x="87.7" y="790.5" width="2.0" height="6.9" rx=".8"/><rect x="287.0" y="780.1" width="1.8" height="7.0" rx=".8"/><rect x="400.1" y="840.7" width="1.8" height="5.5" rx=".8"/><rect x="230.2" y="825.0" width="2.4" height="3.6" rx=".8"/><rect x="259.1" y="648.7" width="2.3" height="5.1" rx=".8"/><rect x="373.6" y="621.4" width="2.2" height="7.1" rx=".8"/><rect x="231.0" y="814.3" width="2.1" height="5.3" rx=".8"/><rect x="117.8" y="892.2" width="2.1" height="3.3" rx=".8"/><rect x="400.1" y="693.9" width="2.1" height="5.2" rx=".8"/><rect x="400.6" y="717.7" width="1.6" height="5.3" rx=".8"/><rect x="144.5" y="788.0" width="1.8" height="4.4" rx=".8"/><rect x="399.4" y="674.5" width="2.3" height="3.4" rx=".8"/><rect x="285.9" y="722.6" width="1.7" height="5.2" rx=".8"/><rect x="315.8" y="684.2" width="1.9" height="7.4" rx=".8"/><rect x="171.2" y="644.3" width="1.8" height="4.2" rx=".8"/><rect x="287.0" y="856.8" width="1.8" height="3.7" rx=".8"/><rect x="315.9" y="712.5" width="2.4" height="6.5" rx=".8"/><rect x="314.3" y="894.0" width="2.2" height="5.3" rx=".8"/><rect x="428.0" y="894.5" width="2.0" height="5.0" rx=".8"/><rect x="260.2" y="629.5" width="1.6" height="3.3" rx=".8"/><rect x="171.9" y="734.8" width="2.1" height="3.5" rx=".8"/><rect x="341.4" y="644.4" width="1.9" height="3.1" rx=".8"/><rect x="172.6" y="789.0" width="1.8" height="4.7" rx=".8"/><rect x="228.9" y="745.3" width="2.0" height="7.9" rx=".8"/><rect x="285.6" y="748.3" width="1.7" height="4.7" rx=".8"/><rect x="202.3" y="746.7" width="2.0" height="4.0" rx=".8"/><rect x="316.3" y="710.2" width="2.3" height="6.8" rx=".8"/><rect x="201.3" y="902.8" width="2.2" height="4.3" rx=".8"/><rect x="231.0" y="880.8" width="1.8" height="5.7" rx=".8"/><rect x="315.0" y="700.2" width="2.2" height="7.9" rx=".8"/><rect x="175.2" y="848.9" width="2.2" height="4.1" rx=".8"/><rect x="316.0" y="751.1" width="2.4" height="7.0" rx=".8"/><rect x="286.7" y="678.1" width="2.4" height="5.2" rx=".8"/><rect x="403.4" y="905.8" width="1.9" height="4.1" rx=".8"/><rect x="172.7" y="744.0" width="2.0" height="7.9" rx=".8"/><rect x="344.7" y="859.7" width="2.1" height="7.0" rx=".8"/><rect x="116.4" y="857.9" width="1.9" height="6.6" rx=".8"/><rect x="172.3" y="746.5" width="2.2" height="4.7" rx=".8"/><rect x="428.1" y="892.7" width="2.0" height="6.7" rx=".8"/><rect x="116.2" y="823.6" width="1.7" height="3.8" rx=".8"/><rect x="286.8" y="849.1" width="2.3" height="7.9" rx=".8"/><rect x="369.7" y="890.0" width="2.0" height="3.1" rx=".8"/><rect x="427.8" y="900.4" width="2.0" height="7.7" rx=".8"/><rect x="256.0" y="905.3" width="2.3" height="3.1" rx=".8"/><rect x="171.9" y="688.7" width="2.1" height="4.3" rx=".8"/><rect x="256.1" y="857.7" width="2.2" height="7.5" rx=".8"/></g></g><clipPath id="cd"><rect x="589.9" y="576.2" width="358.1" height="353.3"/></clipPath><filter id="mdf" filterUnits="userSpaceOnUse" x="579.9" y="566.2" width="378.1" height="373.3"><feGaussianBlur stdDeviation="1.2"/></filter><mask id="md" maskUnits="userSpaceOnUse" x="579.9" y="566.2" width="378.1" height="373.3"><g filter="url(#mdf)"><rect x="579.9" y="566.2" width="378.1" height="373.3" fill="#fff"/><path d="M597.2 949.5L599.2 596.2M627.8 910.5L625.8 596.2M654.3 910.5L656.3 596.2M684.9 910.5L682.9 596.2M711.4 910.5L713.4 596.2M742.0 910.5L740.0 596.2M768.5 910.5L770.5 596.2M799.1 910.5L797.1 596.2M825.6 910.5L827.6 596.2M856.2 910.5L854.2 596.2M882.7 910.5L884.7 596.2M913.2 910.5L911.2 596.2M939.8 910.5L941.8 596.2V556.2M599.2 596.2V596.2A13.27 13.27 0 0 1 625.8 596.2V596.2M597.2 910.5V914.0A15.27 15.27 0 0 0 627.8 914.0V910.5M625.8 596.2V592.7A15.28 15.28 0 0 1 656.3 592.7V596.2M627.8 910.5V910.5A13.28 13.28 0 0 0 654.3 910.5V910.5M656.3 596.2V596.2A13.27 13.27 0 0 1 682.9 596.2V596.2M654.3 910.5V914.0A15.27 15.27 0 0 0 684.9 914.0V910.5M682.9 596.2V592.7A15.28 15.28 0 0 1 713.4 592.7V596.2M684.9 910.5V910.5A13.28 13.28 0 0 0 711.4 910.5V910.5M713.4 596.2V596.2A13.27 13.27 0 0 1 740.0 596.2V596.2M711.4 910.5V914.0A15.27 15.27 0 0 0 742.0 914.0V910.5M740.0 596.2V592.7A15.27 15.27 0 0 1 770.5 592.7V596.2M742.0 910.5V910.5A13.27 13.27 0 0 0 768.5 910.5V910.5M770.5 596.2V596.2A13.28 13.28 0 0 1 797.1 596.2V596.2M768.5 910.5V914.0A15.28 15.28 0 0 0 799.1 914.0V910.5M797.1 596.2V592.7A15.27 15.27 0 0 1 827.6 592.7V596.2M799.1 910.5V910.5A13.27 13.27 0 0 0 825.6 910.5V910.5M827.6 596.2V596.2A13.28 13.28 0 0 1 854.2 596.2V596.2M825.6 910.5V914.0A15.28 15.28 0 0 0 856.2 914.0V910.5M854.2 596.2V592.7A15.27 15.27 0 0 1 884.7 592.7V596.2M856.2 910.5V910.5A13.27 13.27 0 0 0 882.7 910.5V910.5M884.7 596.2V596.2A13.27 13.27 0 0 1 911.2 596.2V596.2M882.7 910.5V914.0A15.27 15.27 0 0 0 913.2 914.0V910.5M911.2 596.2V592.7A15.28 15.28 0 0 1 941.8 592.7V596.2M913.2 910.5V910.5A13.28 13.28 0 0 0 939.8 910.5V910.5" stroke="#000" stroke-width="12.950000000000001" fill="none"/><path d="M579.9 566.2H958.0V580.2H579.9zM579.9 925.5H958.0V939.5H579.9z" fill="#000"/><rect x="579.9" y="566.2" width="18.3" height="373.3" fill="#000"/><rect x="940.8" y="566.2" width="17.2" height="373.3" fill="#000"/></g></mask><filter id="fd" filterUnits="userSpaceOnUse" x="577.9" y="564.2" width="382.1" height="377.29999999999995" color-interpolation-filters="sRGB"><feGaussianBlur in="SourceGraphic" stdDeviation="0.7" result="m0"/><feTurbulence type="fractalNoise" baseFrequency="0.13" numOctaves="2" seed="14"/><feColorMatrix values="1 0 0 0 0 1 0 0 0 0 1 0 0 0 0 0 0 0 0 1" result="n2"/><feComposite in="m0" in2="n2" operator="arithmetic" k1="0" k2="1" k3="0.16056169447279997" k4="-0.08028" result="m"/><feTurbulence type="fractalNoise" baseFrequency="0.42" numOctaves="1" seed="41"/><feColorMatrix values="1 0 0 0 0 1 0 0 0 0 1 0 0 0 0 0 0 0 0 1" result="n1"/><feComposite in="m" in2="n1" operator="arithmetic" k1="0" k2="1" k3="0.25321286093745027" k4="-0.1266"/><feComponentTransfer><feFuncR type="discrete" tableValues=".42 .42 .42 .42 .42 .42 .42 .42 .42 .42 .42 .42 .42 0 0 0 0 0 0 0 0 0 0 0 0 0 0 0 0 0 0 0 0 0 0 0 0 0 0 0 0 0 0 0 0 0 0 0 0 0 0 0 0 0 0 0 0 0 0 0 0 0 0 0 0 0 0 0 0 0 0 0 0 0 0 0 0 0 0 0 0 0 0 0 0 0 0 0 0 0 0 0 0 0 0 0 0 0 0 0 0 0 0 0 0 0 0 0 0 0 0 0 0 0 0 0 0 0 0 0 0 0 0 0 0 0 0 0 0 0 0 0 0 0 0 0 0 0 0 0 0 0 0 0 0 0 0 0 0 0 0 0 0 0 0 0 0 .5 .5 .5 .5 .5 .5 .5 .5 .5 .5 .61 .61 .61 .61 .61 .61 .61 .61 1 1 1 1 1 1 1 .75 .75 .75 .75 .75 .75 .75 1 1 1 1 1 1 1 1 1 1 1 1 .5 .5 .5 .5 .5 .5 .5 .5 .5 .5 .5 .5 .5 .5 .5 .5 .5 .5 .5 .5 .5 .75 .75 .75 .75 .75 .75 .75 .75 .75 .75 .75 .75 .75 .75 .75 .75 .75 .75 .75 .75 .75 .75 .75 .75 .75 .75 .75 .75 .75 .75 .75 .75 .75 .75"/><feFuncG type="discrete" tableValues=".42 .42 .42 .42 .42 .42 .42 .42 .42 .42 .42 .42 .42 0 0 0 0 0 0 0 0 0 0 0 0 0 0 0 0 0 0 0 0 0 0 0 0 0 0 0 0 0 .25 .25 .25 .25 .25 .25 .25 .25 .25 .25 .25 .25 .25 .25 .25 .25 .25 .25 .25 .25 .25 .5 .5 .5 .5 .5 .5 .5 .5 .5 .5 .5 .5 .5 .5 .5 .5 .5 .5 .5 .5 .5 .5 .5 .5 .5 .75 .75 .75 .75 .75 .75 .75 .75 .75 .75 .75 .75 .75 .75 .75 .75 .75 .75 .75 1 1 1 1 1 1 1 1 1 1 1 1 1 1 1 1 1 1 1 1 1 1 1 1 1 1 1 1 1 1 1 1 1 1 1 1 0 0 0 0 0 0 0 0 0 0 0 0 0 0 1 1 1 1 1 1 1 1 1 1 .61 .61 .61 .61 .61 .61 .61 .61 1 1 1 1 1 1 1 .25 .25 .25 .25 .25 .25 .25 .5 .5 .5 .5 .5 .5 0 0 0 0 0 0 0 0 0 0 0 0 0 0 0 0 0 0 0 0 0 0 0 0 0 0 0 1 1 1 1 1 1 1 1 1 1 1 1 1 1 1 1 1 1 1 1 1 1 1 1 1 1 1 1 1 1 1 1 1 1"/><feFuncB type="discrete" tableValues=".42 .42 .42 .42 .42 .42 .42 .42 .42 .42 .42 .42 .42 1 1 1 1 1 1 1 1 1 1 1 1 1 1 1 1 1 1 1 1 1 1 1 1 1 1 1 1 1 1 1 1 1 1 1 1 1 1 1 1 1 1 1 1 1 1 1 1 1 1 1 1 1 1 1 1 1 1 1 1 1 1 1 1 1 1 1 1 1 1 1 1 1 1 1 1 1 1 1 1 1 1 1 1 1 1 1 1 1 1 1 1 1 1 1 1 1 1 1 1 1 1 1 1 1 1 1 1 1 1 1 1 1 1 1 1 1 1 1 1 1 1 1 1 1 1 1 1 1 1 0 0 0 0 0 0 0 0 0 0 0 0 0 0 .5 .5 .5 .5 .5 .5 .5 .5 .5 .5 .61 .61 .61 .61 .61 .61 .61 .61 0 0 0 0 0 0 0 .5 .5 .5 .5 .5 .5 .5 0 0 0 0 0 0 0 0 0 0 0 0 .5 .5 .5 .5 .5 .5 .5 .5 .5 .5 .5 .5 .5 .5 .5 .5 .5 .5 .5 .5 .5 .25 .25 .25 .25 .25 .25 .25 .25 .25 .25 .25 .25 .25 .25 .25 .25 .25 .25 .25 .25 .25 .25 .25 .25 .25 .25 .25 .25 .25 .25 .25 .25 .25 .25"/><feFuncA type="linear" slope="0" intercept="1"/></feComponentTransfer></filter><g clip-path="url(#cd)"><g filter="url(#fd)"><rect x="575.9" y="562.2" width="386.1" height="381.3" fill="#818181"/><g mask="url(#md)"><rect x="575.9" y="562.2" width="386.1" height="381.3" fill="#b6b6b6"/><path d="M612.5 568.2V937.5M641.0 568.2V937.5M669.6 568.2V937.5M698.1 568.2V937.5M726.7 568.2V937.5M755.2 568.2V937.5M783.8 568.2V937.5M812.3 568.2V937.5M840.9 568.2V937.5M869.4 568.2V937.5M898.0 568.2V937.5M926.5 568.2V937.5" stroke="#fff" stroke-width="9" opacity="0.274" fill="none"/><ellipse cx="833.408" cy="823.51" rx="143.24" ry="176.64999999999998" fill="url(#gw)" opacity="0.209"/><ellipse cx="912.19" cy="809.378" rx="10.743" ry="24.730999999999998" fill="url(#gw)" opacity="0.829"/><ellipse cx="912.19" cy="858.84" rx="10.743" ry="21.197999999999997" fill="url(#gw)" opacity="0.829"/><ellipse cx="804.76" cy="759.916" rx="8.9525" ry="21.197999999999997" fill="url(#gw)" opacity="0.714"/><ellipse cx="804.76" cy="809.378" rx="8.9525" ry="17.665" fill="url(#gw)" opacity="0.600"/><ellipse cx="751.045" cy="752.85" rx="10.743" ry="35.33" fill="url(#gw)" opacity="0.375"/><ellipse cx="618.548" cy="901.236" rx="17.905" ry="24.730999999999998" fill="url(#gw)" opacity="0.829"/><ellipse cx="854.894" cy="876.505" rx="8.9525" ry="24.730999999999998" fill="url(#gw)" opacity="0.600"/><ellipse cx="776.112" cy="858.84" rx="8.9525" ry="17.665" fill="url(#gw)" opacity="0.486"/><ellipse cx="883.5419999999999" cy="735.1850000000001" rx="8.9525" ry="17.665" fill="url(#gw)" opacity="0.486"/><ellipse cx="697.3299999999999" cy="788.1800000000001" rx="35.81" ry="105.98999999999998" fill="url(#gw)" opacity="0.091"/><ellipse cx="625.71" cy="717.52" rx="50.13400000000001" ry="158.98499999999999" fill="url(#gk)" opacity="0.043"/><ellipse cx="661.52" cy="858.84" rx="89.525" ry="105.98999999999998" fill="url(#gk)" opacity="0.043"/><ellipse cx="768.95" cy="604.464" rx="214.86" ry="77.72599999999998" fill="url(#gk)" opacity="0.056"/><ellipse cx="937.2570000000001" cy="682.19" rx="28.648000000000003" ry="105.98999999999998" fill="url(#gk)" opacity="0.037"/><ellipse cx="715.235" cy="682.19" rx="17.905" ry="70.66" fill="url(#gk)" opacity="0.037"/></g><path d="M597.2 949.5L597.2 910.5L599.2 596.2A13.28 13.28 0 0 1 625.8 596.2L627.8 910.5A13.28 13.28 0 0 0 654.3 910.5L656.3 596.2A13.28 13.28 0 0 1 682.9 596.2L684.9 910.5A13.28 13.28 0 0 0 711.4 910.5L713.4 596.2A13.28 13.28 0 0 1 740.0 596.2L742.0 910.5A13.28 13.28 0 0 0 768.5 910.5L770.5 596.2A13.28 13.28 0 0 1 797.0 596.2L799.1 910.5A13.28 13.28 0 0 0 825.6 910.5L827.6 596.2A13.28 13.28 0 0 1 854.1 596.2L856.2 910.5A13.28 13.28 0 0 0 882.7 910.5L884.7 596.2A13.28 13.28 0 0 1 911.2 596.2L913.2 910.5A13.28 13.28 0 0 0 939.8 910.5L941.8 596.2V556.2" stroke="#343434" stroke-width="3.2" fill="none" /><clipPath id="cdl"><rect x="581.9" y="568.2" width="164.7" height="369.3"/></clipPath><path d="M597.2 949.5L597.2 910.5L599.2 596.2A13.28 13.28 0 0 1 625.8 596.2L627.8 910.5A13.28 13.28 0 0 0 654.3 910.5L656.3 596.2A13.28 13.28 0 0 1 682.9 596.2L684.9 910.5A13.28 13.28 0 0 0 711.4 910.5L713.4 596.2A13.28 13.28 0 0 1 740.0 596.2L742.0 910.5A13.28 13.28 0 0 0 768.5 910.5L770.5 596.2A13.28 13.28 0 0 1 797.0 596.2L799.1 910.5A13.28 13.28 0 0 0 825.6 910.5L827.6 596.2A13.28 13.28 0 0 1 854.1 596.2L856.2 910.5A13.28 13.28 0 0 0 882.7 910.5L884.7 596.2A13.28 13.28 0 0 1 911.2 596.2L913.2 910.5A13.28 13.28 0 0 0 939.8 910.5L941.8 596.2V556.2" stroke="#343434" stroke-width="5.0" fill="none" clip-path="url(#cdl)"/><linearGradient id="lgd" gradientUnits="userSpaceOnUse" x1="0" y1="576.2" x2="0" y2="929.5"><stop offset="0" stop-color="#1c1c1c"/><stop offset=".2" stop-color="#1c1c1c"/><stop offset=".3" stop-color="#3f3f3f"/><stop offset=".4" stop-color="#818181" stop-opacity="0"/></linearGradient><path d="M597.2 949.5L597.2 910.5L599.2 596.2A13.28 13.28 0 0 1 625.8 596.2L627.8 910.5A13.28 13.28 0 0 0 654.3 910.5L656.3 596.2A13.28 13.28 0 0 1 682.9 596.2L684.9 910.5A13.28 13.28 0 0 0 711.4 910.5L713.4 596.2A13.28 13.28 0 0 1 740.0 596.2L742.0 910.5A13.28 13.28 0 0 0 768.5 910.5L770.5 596.2A13.28 13.28 0 0 1 797.0 596.2L799.1 910.5A13.28 13.28 0 0 0 825.6 910.5L827.6 596.2A13.28 13.28 0 0 1 854.1 596.2L856.2 910.5A13.28 13.28 0 0 0 882.7 910.5L884.7 596.2A13.28 13.28 0 0 1 911.2 596.2L913.2 910.5A13.28 13.28 0 0 0 939.8 910.5L941.8 596.2V556.2" stroke="url(#lgd)" stroke-width="5.800000000000001" fill="none"/><path d="M590.9 596.2V929.5" stroke="#c1c1c1" stroke-width="3.5"/></g></g><path d="M946.8 636.2V928.5H619.9" stroke="#800080" stroke-width="2.6" fill="none"/>
<g id="frames" fill="none" stroke="#262626" stroke-width="8.3" stroke-dasharray="33.1 25.07">
<rect x="79.6" y="89.2" width="353.1" height="352.90000000000003"/>
<rect x="592.1" y="88.9" width="353.1" height="352.90000000000003"/>
<rect x="79.6" y="574.0" width="353.1" height="354.3"/>
<rect x="592.6" y="574.0" width="353.1" height="354.3"/>
</g>
<g id="chart">
<text x="22.5" y="1021.7" font-size="54.8">e)</text>
<text x="105.5" y="1030.4" font-size="49.7">Frequency distribution of contact pressure</text>
<text transform="translate(47.8,1392.5) rotate(-90)" font-size="44.2">Frequency [%]</text>
<text x="90.2" y="1449.1" font-size="27.6" text-anchor="end">0</text>
<text x="90.2" y="1351.3" font-size="27.6" text-anchor="end">10</text>
<text x="90.2" y="1253.4" font-size="27.6" text-anchor="end">20</text>
<text x="90.2" y="1155.6" font-size="27.6" text-anchor="end">30</text>
<text x="90.2" y="1057.7" font-size="27.6" text-anchor="end">40</text>
<g stroke="#000" stroke-width="1.3">
<rect x="175.80" y="1406.88" width="12.9" height="31.52" fill="#00ffff"/>
<rect x="188.70" y="1205.08" width="12.9" height="233.32" fill="#000000"/>
<rect x="201.60" y="1083.32" width="12.9" height="355.08" fill="#80ff80"/>
<rect x="214.50" y="1205.08" width="12.9" height="233.32" fill="#9b9b9b"/>
<rect x="227.40" y="1349.83" width="12.9" height="88.57" fill="#ffff00"/>
<rect x="240.30" y="1417.20" width="12.9" height="21.20" fill="#c04080"/>
<rect x="253.20" y="1433.10" width="12.9" height="5.30" fill="#ff8000"/>
<rect x="266.10" y="1437.33" width="12.9" height="1.07" fill="#ff0000"/>
<rect x="279.00" y="1435.85" width="12.9" height="2.55" fill="#800080"/>
<rect x="291.90" y="1437.82" width="12.9" height="0.58" fill="#bfff40"/>
<rect x="349.90" y="1285.61" width="12.9" height="152.79" fill="#0000ff"/>
<rect x="362.80" y="1373.01" width="12.9" height="65.39" fill="#0040ff"/>
<rect x="375.70" y="1364.46" width="12.9" height="73.94" fill="#0080ff"/>
<rect x="388.60" y="1398.54" width="12.9" height="39.86" fill="#00bfff"/>
<rect x="401.50" y="1259.09" width="12.9" height="179.31" fill="#00ffff"/>
<rect x="414.40" y="1317.52" width="12.9" height="120.88" fill="#000000"/>
<rect x="427.30" y="1303.28" width="12.9" height="135.12" fill="#80ff80"/>
<rect x="440.20" y="1331.07" width="12.9" height="107.33" fill="#9b9b9b"/>
<rect x="453.10" y="1385.18" width="12.9" height="53.22" fill="#ffff00"/>
<rect x="466.00" y="1418.47" width="12.9" height="19.93" fill="#c04080"/>
<rect x="478.90" y="1431.14" width="12.9" height="7.26" fill="#ff8000"/>
<rect x="491.80" y="1435.36" width="12.9" height="3.04" fill="#ff0000"/>
<rect x="504.70" y="1432.91" width="12.9" height="5.49" fill="#800080"/>
<rect x="517.60" y="1435.85" width="12.9" height="2.55" fill="#bfff40"/>
<rect x="614.70" y="1433.10" width="12.9" height="5.30" fill="#80ff80"/>
<rect x="627.60" y="1396.57" width="12.9" height="41.83" fill="#9b9b9b"/>
<rect x="640.50" y="1300.34" width="12.9" height="138.06" fill="#ffff00"/>
<rect x="653.40" y="1275.79" width="12.9" height="162.61" fill="#c04080"/>
<rect x="666.30" y="1303.77" width="12.9" height="134.63" fill="#ff8000"/>
<rect x="679.20" y="1306.23" width="12.9" height="132.17" fill="#ff0000"/>
<rect x="692.10" y="1115.72" width="12.9" height="322.68" fill="#800080"/>
<rect x="705.00" y="1402.47" width="12.9" height="35.93" fill="#bfff40"/>
<rect x="763.10" y="1389.31" width="12.9" height="49.09" fill="#0000ff"/>
<rect x="776.00" y="1395.10" width="12.9" height="43.30" fill="#0040ff"/>
<rect x="788.90" y="1402.47" width="12.9" height="35.93" fill="#0080ff"/>
<rect x="801.80" y="1428.49" width="12.9" height="9.91" fill="#00bfff"/>
<rect x="814.70" y="1255.17" width="12.9" height="183.23" fill="#00ffff"/>
<rect x="827.60" y="1348.46" width="12.9" height="89.94" fill="#000000"/>
<rect x="840.50" y="1369.08" width="12.9" height="69.32" fill="#80ff80"/>
<rect x="853.40" y="1377.92" width="12.9" height="60.48" fill="#9b9b9b"/>
<rect x="866.30" y="1373.01" width="12.9" height="65.39" fill="#ffff00"/>
<rect x="879.20" y="1380.86" width="12.9" height="57.54" fill="#c04080"/>
<rect x="892.10" y="1389.31" width="12.9" height="49.09" fill="#ff8000"/>
<rect x="905.00" y="1384.79" width="12.9" height="53.61" fill="#ff0000"/>
<rect x="917.90" y="1271.86" width="12.9" height="166.54" fill="#800080"/>
<rect x="930.80" y="1403.45" width="12.9" height="34.95" fill="#bfff40"/>
</g>
<g stroke="#262626" stroke-width="1.5" fill="none">
<rect x="102.3" y="1047.0" width="863.2" height="391.4000000000001"/>
<path d="M214.5 1047.0v13M440.2 1047.0v13M627.6 1047.0v13M853.4 1047.0v13M102.3 1340.6h13M965.5 1340.6h-13M102.3 1242.7h13M965.5 1242.7h-13M102.3 1144.9h13M965.5 1144.9h-13"/>
</g>
<text x="149.4" y="1484.5" font-size="42.5">k</text>
<text x="173.4" y="1494.8" font-size="29.1">low, even</text>
<text x="347.3" y="1484.5" font-size="42.5">k</text>
<text x="371.3" y="1494.8" font-size="29.1">low, uneven</text>
<text x="604.6" y="1484.5" font-size="42.5">k</text>
<text x="627.8" y="1494.8" font-size="29.1">high, even</text>
<text x="803.2" y="1484.5" font-size="42.5">k</text>
<text x="827" y="1494.8" font-size="29.1">high uneven</text>
</g>
<g id="colorbar">
<rect x="100.4" y="1521.6" width="48.3" height="27.0" fill="#ffffff"/>
<rect x="148.7" y="1521.6" width="12.5" height="27.0" fill="#0000ff"/>
<rect x="161.2" y="1521.6" width="12.6" height="27.0" fill="#0040ff"/>
<rect x="173.8" y="1521.6" width="23.6" height="27.0" fill="#0080ff"/>
<rect x="197.4" y="1521.6" width="25.0" height="27.0" fill="#00bfff"/>
<rect x="222.4" y="1521.6" width="60.4" height="27.0" fill="#00ffff"/>
<rect x="282.8" y="1521.6" width="62.5" height="27.0" fill="#000000"/>
<rect x="345.3" y="1521.6" width="60.5" height="27.0" fill="#80ff80"/>
<rect x="405.8" y="1521.6" width="61.6" height="27.0" fill="#9b9b9b"/>
<rect x="467.4" y="1521.6" width="61.8" height="27.0" fill="#ffff00"/>
<rect x="529.2" y="1521.6" width="60.8" height="27.0" fill="#c04080"/>
<rect x="590" y="1521.6" width="60.6" height="27.0" fill="#ff8000"/>
<rect x="650.6" y="1521.6" width="60.6" height="27.0" fill="#ff0000"/>
<rect x="711.2" y="1521.6" width="123.8" height="27.0" fill="#800080"/>
<rect x="835" y="1521.6" width="122.2" height="27.0" fill="#bfff40"/>
<path d="M148.7 1521.6V1548.6M161.2 1521.6V1548.6M173.8 1521.6V1548.6M197.4 1521.6V1548.6M222.4 1521.6V1548.6M405.8 1521.6V1548.6M467.4 1521.6V1548.6M529.2 1521.6V1548.6M590 1521.6V1548.6M650.6 1521.6V1548.6M711.2 1521.6V1548.6" stroke="#1a1a1a" stroke-width="1.2"/>
<rect x="100.4" y="1521.6" width="856.8" height="27.0" fill="none" stroke="#1a1a1a" stroke-width="1.4"/>
<text transform="translate(172.2,1589) rotate(-45)" font-size="36" text-anchor="end" fill="#111">0.2</text>
<text transform="translate(245.9,1589) rotate(-45)" font-size="36" text-anchor="end" fill="#111">0.5</text>
<text transform="translate(306.3,1589) rotate(-45)" font-size="36" text-anchor="end" fill="#111">0.75</text>
<text transform="translate(368.8,1589) rotate(-45)" font-size="36" text-anchor="end" fill="#111">1</text>
<text transform="translate(429.3,1589) rotate(-45)" font-size="36" text-anchor="end" fill="#111">1.25</text>
<text transform="translate(490.9,1589) rotate(-45)" font-size="36" text-anchor="end" fill="#111">1.5</text>
<text transform="translate(552.7,1589) rotate(-45)" font-size="36" text-anchor="end" fill="#111">1.75</text>
<text transform="translate(613.5,1589) rotate(-45)" font-size="36" text-anchor="end" fill="#111">2</text>
<text transform="translate(674.1,1589) rotate(-45)" font-size="36" text-anchor="end" fill="#111">2.25</text>
<text transform="translate(734.7,1589) rotate(-45)" font-size="36" text-anchor="end" fill="#111">2.5</text>
<text transform="translate(858.5,1589) rotate(-45)" font-size="36" text-anchor="end" fill="#111">3</text>
<text x="461.8" y="1677.3" font-size="40.6">p [MPa]</text>
</g>
</svg>
</body></html>
